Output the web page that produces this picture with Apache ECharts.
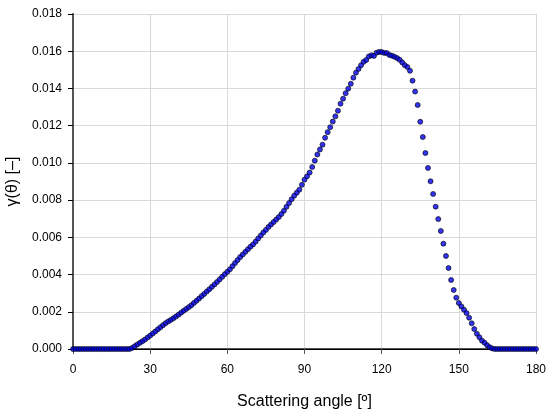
<!DOCTYPE html>
<html>
<head>
<meta charset="utf-8">
<script src="https://cdn.jsdelivr.net/npm/echarts@6/dist/echarts.min.js"></script>
<style>
  html, body { margin: 0; padding: 0; background: #fff; }
  #main { width: 550px; height: 411px; }
</style>
</head>
<body>
<div id="main"></div>
<script>
// scattering angle, one point per degree
var angles = [];
for (var a = 0; a <= 180; a++) angles.push(a);

// gamma(theta), 0..180 deg
var gammaLow = [ // 0 - 59
  0, 0, 0, 0, 0, 0, 0, 0, 0, 0,
  0, 0, 0, 0, 0, 0, 0, 0, 0, 0,
  0, 0, 0, 0.00006, 0.00015, 0.00024, 0.00033, 0.00042, 0.00051, 0.00062,
  0.00072, 0.00083, 0.00094, 0.00106, 0.00117, 0.00128, 0.00139, 0.00148, 0.00156, 0.00165,
  0.00174, 0.00184, 0.00195, 0.00205, 0.00215, 0.00225, 0.00235, 0.00247, 0.00259, 0.00271,
  0.00284, 0.00296, 0.00309, 0.00321, 0.00334, 0.00347, 0.0036, 0.00374, 0.00388, 0.00402
];
var gammaMid = [ // 60 - 119
  0.00415, 0.00428, 0.00445, 0.00462, 0.00478, 0.00494, 0.00508, 0.00522, 0.00536, 0.0055,
  0.00562, 0.00577, 0.00594, 0.0061, 0.00626, 0.0064, 0.00656, 0.00669, 0.00682, 0.00696,
  0.00709, 0.00725, 0.00743, 0.00764, 0.00784, 0.00805, 0.00824, 0.0084, 0.00856, 0.00882,
  0.0091, 0.00928, 0.00948, 0.00978, 0.01012, 0.01045, 0.01072, 0.01098, 0.01135, 0.01165,
  0.01192, 0.01222, 0.01250, 0.0128, 0.01318, 0.01345, 0.01374, 0.01399, 0.01425, 0.01458,
  0.01485, 0.01505, 0.01525, 0.01543, 0.01553, 0.01572, 0.01578, 0.01575, 0.01592, 0.01596
];
var gammaHigh = [ // 120 - 180
  0.01596, 0.01591, 0.0159, 0.0158, 0.01576, 0.0157, 0.01563, 0.01554, 0.0154, 0.01525,
  0.01515, 0.01495, 0.01442, 0.01383, 0.01311, 0.01221, 0.01139, 0.01053, 0.00973, 0.00901,
  0.00833, 0.00765, 0.00698, 0.00634, 0.00566, 0.005, 0.00435, 0.00371, 0.00317, 0.00276,
  0.00247, 0.00229, 0.00211, 0.00193, 0.00168, 0.00138, 0.00107, 0.00082, 0.00063, 0.00045,
  0.00034, 0.0002, 0.0001, 0.00003, 0, 0, 0, 0, 0, 0,
  0, 0, 0, 0, 0, 0, 0, 0, 0, 0,
  0
];
var gamma = gammaLow.concat(gammaMid, gammaHigh);

var points = angles.map(function (a, i) { return [a, gamma[i]]; });

var chart = echarts.init(document.getElementById('main'));

var font = 'Liberation Sans, Arial, sans-serif';

var option = {
  animation: false,
  backgroundColor: '#fff',
  grid: { left: 73, right: 14, top: 14, bottom: 62, outerBoundsMode: 'none' },
  xAxis: [
    {
      type: 'value',
      min: 0, max: 180, interval: 30,
      name: 'Scattering angle [º]',
      nameLocation: 'middle',
      nameGap: 45,
      nameTextStyle: { fontFamily: font, fontSize: 16, color: '#000' },
      axisLine: { lineStyle: { color: '#555', width: 2 } },
      axisTick: { length: 5, lineStyle: { color: '#555' } },
      axisLabel: { fontFamily: font, fontSize: 12, color: '#000', margin: 15 },
      splitLine: { show: true, lineStyle: { color: '#d9d9d9', width: 1 } }
    },
    {
      // top border of the plot area
      type: 'value', position: 'top',
      min: 0, max: 180,
      axisLine: { show: true, lineStyle: { color: '#000', width: 1 } },
      axisTick: { show: false }, axisLabel: { show: false }, splitLine: { show: false }
    }
  ],
  yAxis: [
    {
      type: 'value',
      min: 0, max: 0.018, interval: 0.002,
      name: 'γ(θ) [–]',
      nameLocation: 'middle',
      nameGap: 52,
      nameTextStyle: { fontFamily: font, fontSize: 16, color: '#000' },
      axisLine: { show: true, lineStyle: { color: '#000', width: 1 } },
      axisTick: { show: true, length: 5, lineStyle: { color: '#000' } },
      axisLabel: {
        fontFamily: font, fontSize: 12, color: '#000', margin: 11,
        formatter: function (v) { return v.toFixed(3); }
      },
      splitLine: { show: true, lineStyle: { color: '#d9d9d9', width: 1 } }
    },
    {
      // right border of the plot area
      type: 'value', position: 'right',
      min: 0, max: 0.018,
      axisLine: { show: true, lineStyle: { color: '#555', width: 2 } },
      axisTick: { show: false }, axisLabel: { show: false }, splitLine: { show: false }
    }
  ],
  series: [
    {
      type: 'scatter',
      data: points,
      symbol: 'circle',
      symbolSize: 5,
      itemStyle: { color: '#0000f0', borderColor: '#000', borderWidth: 0.8 }
    }
  ]
};
chart.setOption(option);
</script>
</body>
</html>
